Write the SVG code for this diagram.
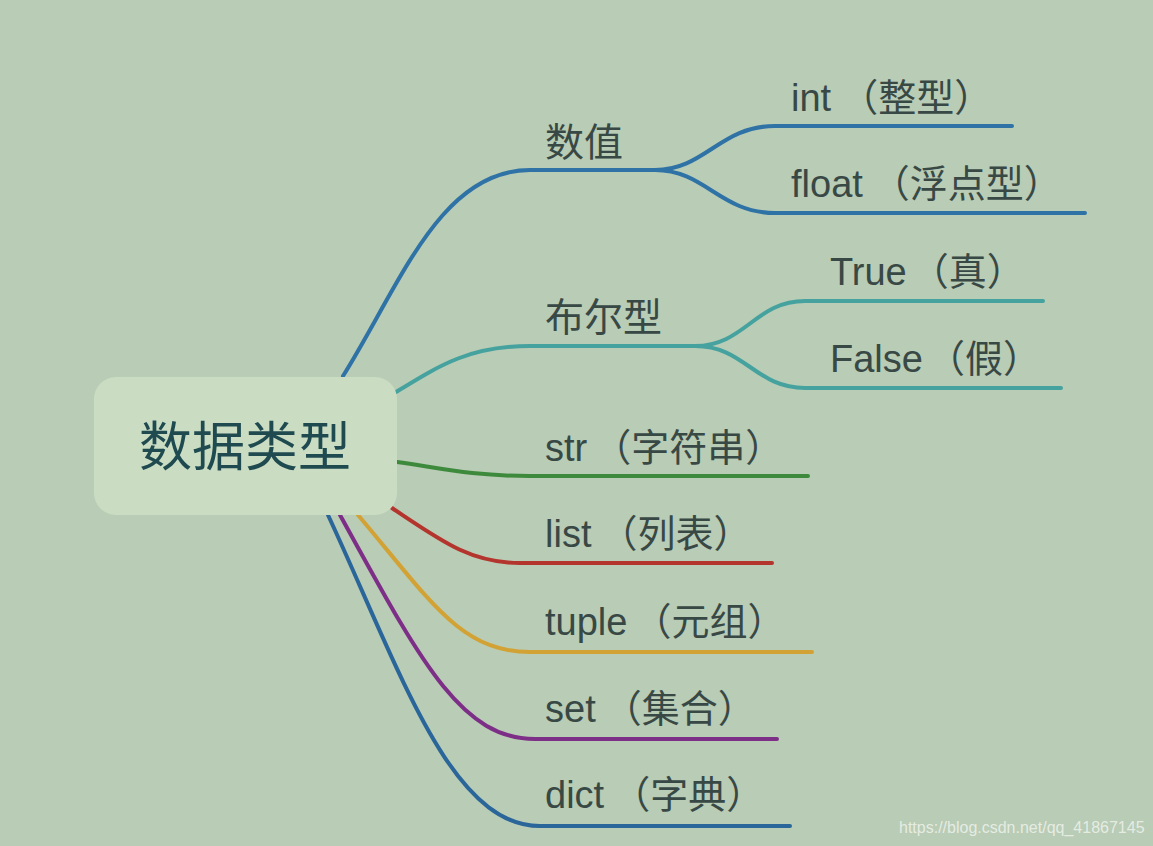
<svg xmlns="http://www.w3.org/2000/svg" width="1153" height="846" viewBox="0 0 1153 846">
<style>
.lbl{font-family:"Liberation Sans","Noto Sans CJK SC",sans-serif;font-size:38px;fill:#384845}
.br{fill:none;stroke-width:4;stroke-linecap:round}
</style>
<rect width="1153" height="846" fill="#B9CCB5"/>
<g id="connectors">
<path class="br" stroke="#2F72A6" d="M343,376 C400,285 440,170 530,170 L655,170"/>
<path class="br" stroke="#2F72A6" d="M655,170 C705,170 720,126 775,126 L1012,126"/>
<path class="br" stroke="#2F72A6" d="M655,170 C705,170 720,213 775,213 L1085,213"/>
<path class="br" stroke="#46A29F" d="M396,392 C440,365 470,346 530,346 L695,346"/>
<path class="br" stroke="#46A29F" d="M695,346 C745,346 755,301 805,301 L1043,301"/>
<path class="br" stroke="#46A29F" d="M695,346 C745,346 755,388 805,388 L1061,388"/>
<path class="br" stroke="#3E8A3C" d="M397,462 C440,468 470,476 530,476 L808,476"/>
<path class="br" stroke="#B3352D" d="M392,508 C440,540 470,563 520,563 L772,563"/>
<path class="br" stroke="#D2A235" d="M358,515 C430,600 460,652 530,652 L812,652"/>
<path class="br" stroke="#7D2F87" d="M340,515 C420,660 460,739 535,739 L777,739"/>
<path class="br" stroke="#2A6699" d="M328,515 C400,670 450,826 540,826 L790,826"/>
</g>
<g id="root">
<rect x="94" y="377" width="303" height="138" rx="22" fill="#CADDC3"/>
<text x="245" y="466" text-anchor="middle" font-family="Liberation Sans,Noto Sans CJK SC,sans-serif" font-size="53" fill="#1F4A50">数据类型</text>
</g>
<g id="n-shuzhi"><text class="lbl" x="545" y="156" style="font-size:39px">数值</text></g>
<g id="n-int"><text class="lbl" x="791" y="111">int<tspan dx="9">（整型）</tspan></text></g>
<g id="n-float"><text class="lbl" x="791" y="197">float<tspan dx="9">（浮点型）</tspan></text></g>
<g id="n-bool"><text class="lbl" x="545" y="331" style="font-size:39px">布尔型</text></g>
<g id="n-true"><text class="lbl" x="830" y="285">True<tspan dx="4">（真）</tspan></text></g>
<g id="n-false"><text class="lbl" x="830" y="372">False<tspan dx="4">（假）</tspan></text></g>
<g id="n-str"><text class="lbl" x="545" y="461">str<tspan dx="6">（字符串）</tspan></text></g>
<g id="n-list"><text class="lbl" x="545" y="547">list<tspan dx="8">（列表）</tspan></text></g>
<g id="n-tuple"><text class="lbl" x="545" y="635">tuple<tspan dx="6">（元组）</tspan></text></g>
<g id="n-set"><text class="lbl" x="545" y="722">set<tspan dx="8">（集合）</tspan></text></g>
<g id="n-dict"><text class="lbl" x="545" y="808">dict<tspan dx="8">（字典）</tspan></text></g>
<text x="899" y="833" font-family="Liberation Sans,sans-serif" font-size="16" fill="#FFFFFF" fill-opacity="0.65">https://blog.csdn.net/qq_41867145</text>
</svg>
